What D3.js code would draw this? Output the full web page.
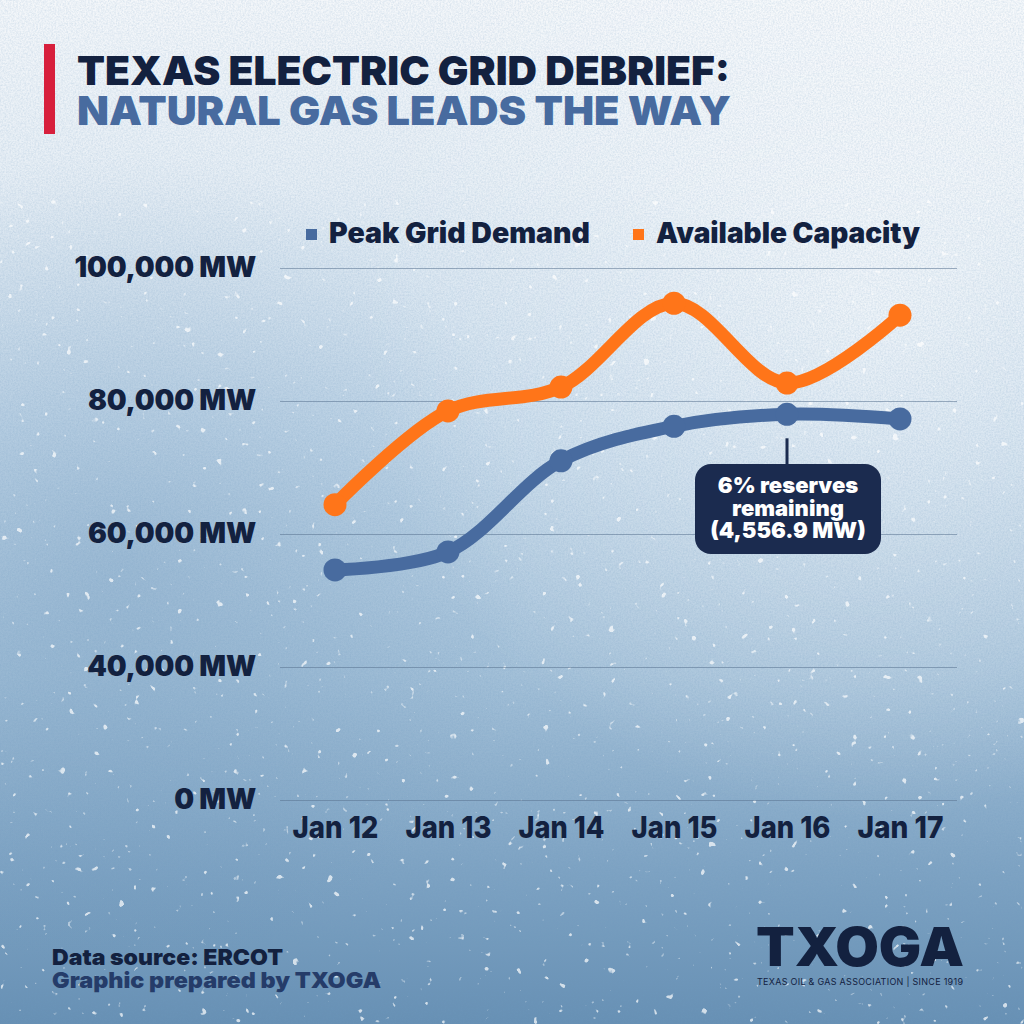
<!DOCTYPE html>
<html>
<head>
<meta charset="utf-8">
<script src="https://cdn.jsdelivr.net/npm/d3@7"></script>
<style>
  html, body { margin: 0; padding: 0; }
  body { width: 1024px; height: 1024px; overflow: hidden; }
  svg text { font-family: Inter, "Noto Sans", sans-serif; }
</style>
</head>
<body>
<svg id="chart" width="1024" height="1024"></svg>
<script>
// data (MW)
const days = ["Jan 12", "Jan 13", "Jan 14", "Jan 15", "Jan 16", "Jan 17"];
const peakDemand = [54600, 57300, 71000, 76200, 78000, 77300];
const availableCapacity = [64400, 78500, 82100, 94700, 82700, 92900];
const yTicks = [0, 40000, 60000, 80000, 100000];

const NAVY = "#13213f";
const BLUE = "#486b9f";
const ORANGE = "#ff7519";

const svg = d3.select("#chart");
const defs = svg.append("defs");

// snowy background
const bg = defs.append("linearGradient").attr("id", "bg").attr("x1", 0).attr("y1", 0).attr("x2", 0).attr("y2", 1);
bg.append("stop").attr("offset", "0%").attr("stop-color", "#f4f7fa");
bg.append("stop").attr("offset", "18%").attr("stop-color", "#e6eef5");
bg.append("stop").attr("offset", "42%").attr("stop-color", "#c4d8e9");
bg.append("stop").attr("offset", "66%").attr("stop-color", "#a3c0d8");
bg.append("stop").attr("offset", "85%").attr("stop-color", "#7ea3c3");
bg.append("stop").attr("offset", "100%").attr("stop-color", "#6790b4");

const glow = defs.append("radialGradient").attr("id", "glow").attr("cx", 0.85).attr("cy", 0.3).attr("r", 0.5);
glow.append("stop").attr("offset", "0%").attr("stop-color", "#ffffff").attr("stop-opacity", 0.6);
glow.append("stop").attr("offset", "100%").attr("stop-color", "#ffffff").attr("stop-opacity", 0);

const shade = defs.append("radialGradient").attr("id", "shade").attr("cx", 0.12).attr("cy", 0.55).attr("r", 0.4);
shade.append("stop").attr("offset", "0%").attr("stop-color", "#5f8bb3").attr("stop-opacity", 0.28);
shade.append("stop").attr("offset", "100%").attr("stop-color", "#5f8bb3").attr("stop-opacity", 0);

const grain = defs.append("filter").attr("id", "grain").attr("x", 0).attr("y", 0).attr("width", 1).attr("height", 1);
grain.append("feTurbulence").attr("type", "fractalNoise").attr("baseFrequency", 0.6).attr("numOctaves", 3).attr("seed", 4);
grain.append("feColorMatrix").attr("type", "matrix")
  .attr("values", "0 0 0 0 0.16  0 0 0 0 0.32  0 0 0 0 0.52  0 0 0 -1.6 1.1");

const snow = defs.append("filter").attr("id", "snow").attr("x", 0).attr("y", 0).attr("width", 1).attr("height", 1);
snow.append("feTurbulence").attr("type", "fractalNoise").attr("baseFrequency", 0.12).attr("numOctaves", 2).attr("seed", 7);
snow.append("feColorMatrix").attr("type", "matrix")
  .attr("values", "0 0 0 0 1  0 0 0 0 1  0 0 0 0 1  14 0 0 0 -10.2");

svg.append("rect").attr("width", 1024).attr("height", 1024).attr("fill", "url(#bg)");
svg.append("rect").attr("width", 1024).attr("height", 1024).attr("fill", "url(#shade)");
svg.append("rect").attr("width", 1024).attr("height", 1024).attr("fill", "url(#glow)");
svg.append("rect").attr("width", 1024).attr("height", 1024).attr("filter", "url(#grain)").attr("opacity", 0.22);
svg.append("rect").attr("y", 200).attr("width", 1024).attr("height", 824).attr("filter", "url(#snow)").attr("opacity", 0.7);

// title
svg.append("rect").attr("x", 44).attr("y", 44).attr("width", 11).attr("height", 90).attr("fill", "#d71f3c");
svg.append("text").attr("x", 77).attr("y", 85)
  .attr("font-size", 40).attr("font-weight", 900).attr("fill", NAVY)
  .attr("textLength", 653).attr("lengthAdjust", "spacingAndGlyphs")
  .text("TEXAS ELECTRIC GRID DEBRIEF:");
svg.append("text").attr("x", 77).attr("y", 125)
  .attr("font-size", 40).attr("font-weight", 900).attr("fill", BLUE)
  .attr("textLength", 654).attr("lengthAdjust", "spacingAndGlyphs")
  .text("NATURAL GAS LEADS THE WAY");

// scales: the ticks sit at equal spacing (the 20,000 step is skipped)
const yScale = d3.scaleLinear()
  .domain(yTicks)
  .range(yTicks.map((t, i) => 800 - i * 133));
const xScale = d3.scalePoint().domain(days).range([335, 900]);

// gridlines
const grid = svg.append("g")
  .attr("transform", "translate(280,0)")
  .call(d3.axisLeft(yScale).tickValues(yTicks).tickSize(-677).tickFormat(""));
grid.select(".domain").remove();
grid.selectAll("line").attr("stroke", "#5a7390").attr("stroke-opacity", 0.55).attr("stroke-width", 1.2);

// y labels
const yAxis = svg.append("g")
  .attr("transform", "translate(256,0)")
  .call(d3.axisLeft(yScale).tickValues(yTicks).tickSize(0).tickPadding(0)
    .tickFormat(d => d3.format(",")(d) + " MW"));
yAxis.select(".domain").remove();
yAxis.selectAll("text")
  .attr("font-family", "Inter, sans-serif").attr("font-size", 28).attr("font-weight", 900)
  .attr("letter-spacing", -0.2).attr("fill", NAVY).attr("dy", "0.3em");

// x labels
const xAxis = svg.append("g")
  .attr("transform", "translate(0,838)")
  .call(d3.axisBottom(xScale).tickSize(0).tickPadding(0));
xAxis.select(".domain").remove();
xAxis.selectAll("text")
  .attr("font-family", "Inter, sans-serif").attr("font-size", 30).attr("font-weight", 800)
  .attr("fill", NAVY).attr("dy", 0)
  .attr("textLength", 86).attr("lengthAdjust", "spacingAndGlyphs");

// legend
const legend = [
  { label: "Peak Grid Demand", color: BLUE, x: 306, w: 261 },
  { label: "Available Capacity", color: ORANGE, x: 633, w: 264 }
];
legend.forEach(l => {
  svg.append("rect").attr("x", l.x).attr("y", 229).attr("width", 11).attr("height", 11).attr("fill", l.color);
  svg.append("text").attr("x", l.x + 23).attr("y", 243)
    .attr("font-size", 28).attr("font-weight", 900).attr("fill", NAVY)
    .attr("textLength", l.w).attr("lengthAdjust", "spacingAndGlyphs")
    .text(l.label);
});

// lines
const line = d3.line()
  .x((d, i) => xScale(days[i]))
  .y(d => yScale(d))
  .curve(d3.curveCatmullRom.alpha(0.5));

[[availableCapacity, ORANGE], [peakDemand, BLUE]].forEach(([vals, color]) => {
  svg.append("path").datum(vals).attr("d", line)
    .attr("fill", "none").attr("stroke", color).attr("stroke-width", 13)
    .attr("stroke-linecap", "round").attr("stroke-linejoin", "round");
  svg.append("g").selectAll("circle").data(vals).join("circle")
    .attr("cx", (d, i) => xScale(days[i]))
    .attr("cy", d => yScale(d))
    .attr("r", 11.5)
    .attr("fill", color);
});

// callout on Jan 16
const cx = xScale("Jan 16");
svg.append("line").attr("x1", cx).attr("x2", cx)
  .attr("y1", yScale(peakDemand[4]) + 24).attr("y2", 466)
  .attr("stroke", "#1b2b4f").attr("stroke-width", 3);
svg.append("rect").attr("x", 695).attr("y", 464).attr("width", 186).attr("height", 90).attr("rx", 16)
  .attr("fill", "#1b2b4f");
const callout = ["6% reserves", "remaining", "(4,556.9 MW)"];
svg.append("g").selectAll("text").data(callout).join("text")
  .attr("x", 788).attr("y", (d, i) => 493 + i * 22.5)
  .attr("text-anchor", "middle").attr("font-size", 22).attr("font-weight", 900)
  .attr("fill", "#ffffff").text(d => d);

// footer
svg.append("text").attr("x", 52).attr("y", 965)
  .attr("font-size", 22).attr("font-weight", 900).attr("fill", NAVY)
  .attr("textLength", 231).attr("lengthAdjust", "spacingAndGlyphs")
  .text("Data source: ERCOT");
svg.append("text").attr("x", 52).attr("y", 988)
  .attr("font-size", 22).attr("font-weight", 900).attr("fill", "#253c69")
  .attr("textLength", 329).attr("lengthAdjust", "spacingAndGlyphs")
  .text("Graphic prepared by TXOGA");

// logo
svg.append("text").attr("x", 756).attr("y", 966)
  .attr("font-size", 54).attr("font-weight", 900).attr("fill", NAVY)
  .attr("textLength", 208).attr("lengthAdjust", "spacingAndGlyphs")
  .text("TXOGA");
svg.append("text").attr("x", 757).attr("y", 985)
  .attr("font-family", "'Liberation Serif', serif").attr("font-size", 9).attr("fill", NAVY)
  .attr("textLength", 206).attr("lengthAdjust", "spacing")
  .text("TEXAS OIL & GAS ASSOCIATION | SINCE 1919");
</script>
</body>
</html>
